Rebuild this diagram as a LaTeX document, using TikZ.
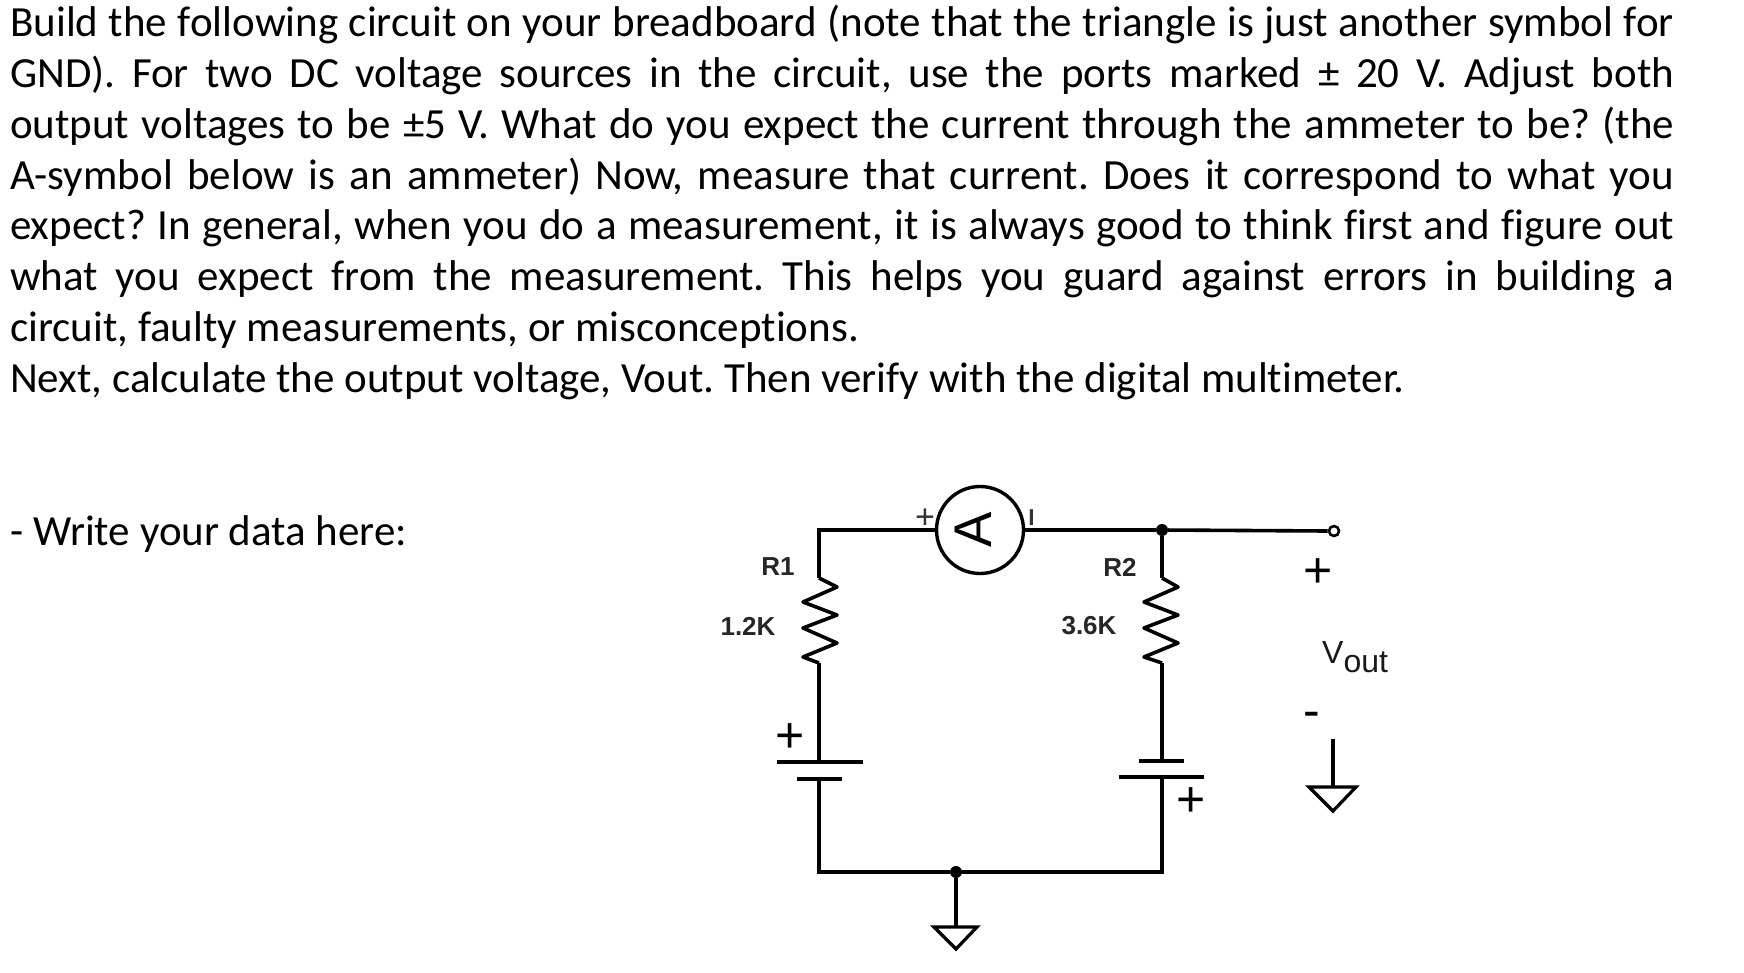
\documentclass[tikz,border=0pt]{standalone}
\usepackage{fontspec}
\setmainfont{Carlito}[Ligatures=NoCommon]
\newfontfamily\arialf{Liberation Sans}
\newcommand{\para}[1]{\hbox to 1664pt{#1}}
\frenchspacing
\tikzset{
  x=1pt,y=-1pt,
  wire/.style={line width=3.6pt,line join=miter,black},
  plate/.style={line width=4.6pt,black},
  thinplate/.style={line width=3.6pt,black},
  dot/.style={circle,fill=black,inner sep=0pt,minimum size=12pt},
  terminal/.style={circle,draw=black,fill=white,line width=2.6pt,inner sep=0pt,minimum size=10pt},
  meter/.style={circle,draw=black,fill=white,line width=3.4pt,inner sep=0pt,minimum size=87pt},
  gnd/.style={line width=3.2pt,line join=miter,black},
  body/.style={anchor=base west,inner sep=0pt,font=\fontsize{43}{50.8}\selectfont},
  lab/.style={inner sep=0pt,text=black!85,font=\arialf\bfseries\fontsize{26}{28}\selectfont},
  sign/.style={inner sep=0pt,font=\arialf\fontsize{50}{52}\selectfont},
  smallsign/.style={inner sep=0pt,text=black!80,font=\arialf\fontsize{34}{36}\selectfont},
}
\begin{document}
\begin{tikzpicture}
\useasboundingbox (0,0) rectangle (1744,972);
% text block
\node[body,anchor=north west,align=left] (txt) at (10,5) {\vbox{\baselineskip=50.8pt\lineskip=0pt
\para{Build the following circuit on your breadboard (note that the triangle is just another symbol for}
\para{GND). For two DC voltage sources in the circuit, use the ports marked ± 20 V. Adjust both}
\para{output voltages to be ±5 V. What do you expect the current through the ammeter to be? (the}
\para{A-symbol below is an ammeter) Now, measure that current. Does it correspond to what you}
\para{expect? In general, when you do a measurement, it is always good to think first and figure out}
\para{what you expect from the measurement. This helps you guard against errors in building a}
\hbox{circuit, faulty measurements, or misconceptions.}
\hbox{Next, calculate the output voltage, Vout. Then verify with the digital multimeter.}}};
\node[body] (data) at (10,545) {- Write your data here:};
% ammeter and junctions
\node[meter] (am) at (980,530) {};
\node[inner sep=0pt,rotate=90,font=\arialf\fontsize{53}{55}\selectfont] (amA) at (973,530) {A};
\node[dot] (j1) at (1162,530) {};
\node[dot] (j2) at (956,872) {};
\node[terminal] (out) at (1334,531) {};
\coordinate (tl) at (819,530);
\coordinate (r1a) at (819,578);
\coordinate (r1b) at (819,663);
\coordinate (b1t) at (819,762);
\coordinate (b1b) at (819,779);
\coordinate (bl) at (819,872);
\coordinate (r2a) at (1162,578);
\coordinate (r2b) at (1162,663);
\coordinate (b2t) at (1162,761);
\coordinate (b2b) at (1162,777);
\coordinate (br) at (1162,872);
\coordinate (g1) at (956,927);
\coordinate (g2a) at (1333,739);
\coordinate (g2) at (1333,787);
% wires
\draw[wire] (am.west) -- (tl) -- (r1a);
\draw[wire] (am.east) -- (j1) -- (out.west);
\draw[wire] (j1) -- (r2a);
\draw[wire,line join=round] (r1a) -- (837,587) -- (803,602) -- (837,615) -- (803,628) -- (837,643) -- (803,657) -- (r1b);
\draw[wire,line join=round] (r2a) -- (1178,587) -- (1144,602) -- (1178,615) -- (1144,628) -- (1178,643) -- (1144,657) -- (r2b);
\draw[wire] (r1b) -- (b1t);
\draw[wire] (r2b) -- (b2t);
\draw[wire] (b1b) -- (bl) -- (j2) -- (br) -- (b2b);
% batteries
\draw[plate] (777,762) -- (863,762);
\draw[thinplate] (797,779) -- (842,779);
\draw[thinplate] (1139,761) -- (1184,761);
\draw[plate] (1119,777) -- (1204,777);
% grounds
\draw[wire] (j2) -- (g1);
\draw[gnd] (934,927) -- (977,927) -- (956,949) -- cycle;
\draw[gnd] (g2a) -- (g2);
\draw[gnd] (1309,787) -- (1356,787) -- (1333,811) -- cycle;
% labels
\node[lab] (lr1) at (778,567) {R1};
\node[lab] (lv1) at (748,626) {1.2K};
\node[lab] (lr2) at (1120,567) {R2};
\node[lab] (lv2) at (1089,626) {3.6K};
\node[sign] (p1) at (790,738) {+};
\node[sign] (p2) at (1191,802) {+};
\node[sign] (p3) at (1318,573) {+};
\node[sign] (m3) at (1312,720) {-};
\node[smallsign] (ap) at (925,519) {+};
\node[inner sep=0pt,rotate=90,text=black!80,font=\arialf\bfseries\fontsize{32}{34}\selectfont] (am2) at (1035,518) {–};
\node[anchor=base west,inner sep=0pt,font=\arialf\fontsize{32}{34}\selectfont,text=black!90] (vout) at (1322,663) {V\raisebox{-9pt}{out}};
\end{tikzpicture}
\end{document}
